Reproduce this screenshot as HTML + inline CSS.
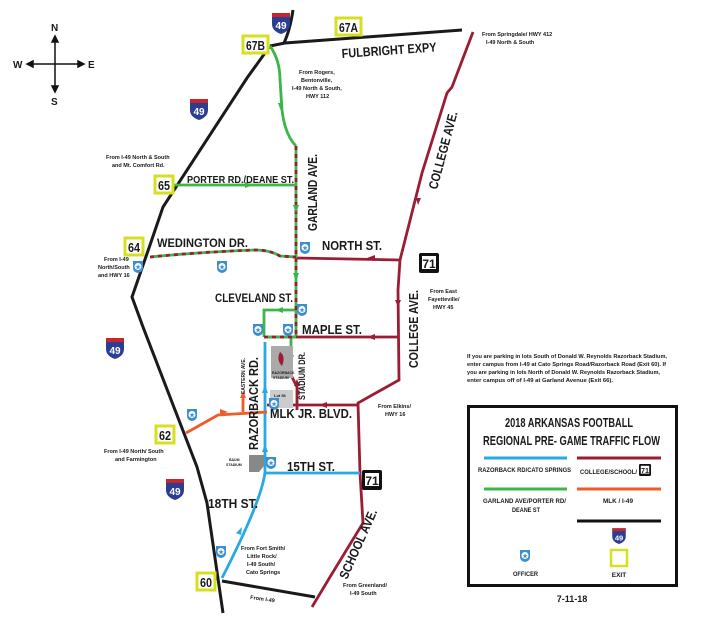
<!DOCTYPE html>
<html><head><meta charset="utf-8"><style>
html,body{margin:0;padding:0;background:#fff;}
svg{display:block;}
text{font-family:"Liberation Sans Narrow","Liberation Sans",sans-serif;font-weight:bold;fill:#1a1a1a;}
.s{font-size:5.5px;font-weight:normal;}
.r{font-size:13px;}
</style></head><body>
<svg width="707" height="630" viewBox="0 0 707 630" xmlns="http://www.w3.org/2000/svg">
<defs>
<g id="off"><path d="M-5,-5 L5,-5 L5,2 Q5,6 0,7 Q-5,6 -5,2Z" fill="#3b8fd0"/><circle cx="0" cy="0.5" r="3.5" fill="#fff"/><text x="0" y="3" font-size="6" text-anchor="middle" style="fill:#3b8fd0">★</text></g>
<g id="i49"><path d="M-9,-9 L9,-9 L9,2 Q9,9 0,12 Q-9,9 -9,2Z" fill="#2c3e8f"/><rect x="-9" y="-9" width="18" height="4" fill="#c8252c"/><text x="0" y="7" font-size="10" text-anchor="middle" style="fill:#fff">49</text></g>
<g id="u71"><rect x="-10" y="-10" width="20" height="20" rx="2" fill="#111"/><path d="M-7,-7 L7,-7 L7,6 L-7,6Z" fill="#fff"/><text x="0" y="5" font-size="12" text-anchor="middle">71</text></g>
</defs>
<g fill="none" stroke="#1a1a1a" stroke-width="3">
<path d="M270,46 L285,43 L462,30"/>
<path d="M284,43 Q290,30 293,10"/>
<path d="M270,46 L247,78 L163,207 L150,245 L132,297 L143,327 L197,467 L207,503 L223,613"/>
<path d="M222,581 L315,597"/>
</g>
<g fill="none" stroke="#9b1d34" stroke-width="2.8">
<path d="M473,32 L452,87 L447,93 L422,173 L400,260 L398,290 L399,380 L358,403 L360,473 L363,523 L330,577 L312,607"/>
<path d="M400,260 L297,258"/>
<path d="M398,337 L268,337"/>
<path d="M358,405 L267,405"/>
<path d="M297,410 L297,387 L290,373"/>
</g>
<g fill="none" stroke="#3cb54a" stroke-width="2.8">
<path d="M270,46 Q280,60 280,80 L282,110 Q285,135 296,146"/>
<path d="M168,185 L296,185"/>
<path d="M295,310 L264,310 L264,337"/>
<path d="M291,337 L291,362"/>
<path d="M296,146 L296,337" />
<path d="M150,257 Q200,252 255,250 Q270,250 280,256 L296,257"/>
<path d="M264,337 L297,337"/>
</g>
<g fill="none" stroke="#9b1d34" stroke-width="2.8" stroke-dasharray="4,4">
<path d="M296,146 L296,337"/>
<path d="M150,257 Q200,252 255,250 Q270,250 280,256 L296,257"/>
<path d="M264,337 L297,337"/>
</g>
<g fill="none" stroke="#27aae1" stroke-width="2.8">
<path d="M265,342 L265,472 Q262,500 222,578"/>
<path d="M265,473 L360,473"/>
</g>
<g fill="none" stroke="#f15a29" stroke-width="2.8">
<path d="M186,433 L218,415 L267,412"/>
<path d="M243,412 L243,395"/>
</g>
<g>
<path d="M278,103 l5,0 l-2.5,7z" fill="#3cb54a"/>
<path d="M293,205 l6,0 l-3,8z" fill="#3cb54a"/>
<path d="M293,273 l6,0 l-3,8z" fill="#3cb54a"/>
<path d="M288,355 l6,0 l-3,8z" fill="#3cb54a"/>
<path d="M245,182 l0,6 l8,-3z" fill="#3cb54a"/>
<path d="M283,307 l0,6 l-8,-3z" fill="#3cb54a"/>
<path d="M375,255 l0,6 l-8,-3z" fill="#9b1d34"/>
<path d="M375,334 l0,6 l-8,-3z" fill="#9b1d34"/>
<path d="M327,402 l0,6 l-8,-3z" fill="#9b1d34"/>
<path d="M416,198 l5,0 l-3,7z" fill="#9b1d34"/>
<path d="M395,300 l6,0 l-3,7z" fill="#9b1d34"/>
<path d="M294,386 l6,0 l-3,-7z" fill="#9b1d34"/>
<path d="M262,393 l6,0 l-3,-8z" fill="#27aae1"/>
<path d="M262,452 l6,0 l-3,-8z" fill="#27aae1"/>
<path d="M236,533 l5,2 l1,-8z" fill="#27aae1"/>
<path d="M220,409 l0,6 l8,-3z" fill="#f15a29"/>
<path d="M240,398 l6,0 l-3,-7z" fill="#f15a29"/>
</g>
<rect x="271" y="346" width="22" height="32" fill="#aaa"/>
<rect x="270" y="390" width="23" height="18" fill="#ccc"/>
<path d="M249,455 L264,455 L264,466 L259,472 L249,472Z" fill="#888"/>
<path d="M280,352 q6,4 2,14 q-6,-6 -2,-14z" fill="#9b1d34"/>
<text x="272" y="374" font-size="3.5" font-weight="normal">RAZORBACK</text>
<text x="273" y="379" font-size="3.5" font-weight="normal">STADIUM</text>
<text x="274" y="397" font-size="4" font-weight="normal">Lot 56</text>
<text x="229" y="461" font-size="3.5" font-weight="normal">BAUM</text>
<text x="226" y="466" font-size="3.5" font-weight="normal">STADIUM</text>
<use href="#off" x="138" y="266"/><use href="#off" x="222" y="266"/>
<use href="#off" x="305" y="247"/><use href="#off" x="302" y="309"/>
<use href="#off" x="258" y="329"/><use href="#off" x="288" y="329"/>
<use href="#off" x="274" y="403"/><use href="#off" x="192" y="414"/>
<use href="#off" x="271" y="462"/><use href="#off" x="221" y="551"/>
<use href="#i49" x="281" y="22"/><use href="#i49" x="199" y="108"/>
<use href="#i49" x="115" y="347"/><use href="#i49" x="175" y="488"/>
<use href="#u71" x="429" y="263"/><use href="#u71" x="372" y="480"/>
<g fill="#fff" stroke="#d6e021" stroke-width="3">
<rect x="243" y="36" width="25" height="17"/><rect x="336" y="18" width="25" height="17"/>
<rect x="155" y="176" width="18" height="17"/><rect x="125" y="238" width="18" height="17"/>
<rect x="156" y="426" width="18" height="17"/><rect x="197" y="573" width="18" height="17"/>
</g>
<text x="246" y="50" font-size="13" textLength="19" lengthAdjust="spacingAndGlyphs">67B</text>
<text x="339" y="32" font-size="13" textLength="19" lengthAdjust="spacingAndGlyphs">67A</text>
<text x="158" y="190" font-size="13" textLength="12" lengthAdjust="spacingAndGlyphs">65</text>
<text x="128" y="252" font-size="13" textLength="12" lengthAdjust="spacingAndGlyphs">64</text>
<text x="159" y="440" font-size="13" textLength="12" lengthAdjust="spacingAndGlyphs">62</text>
<text x="200" y="587" font-size="13" textLength="12" lengthAdjust="spacingAndGlyphs">60</text>
<g lengthAdjust="spacingAndGlyphs">
<text x="342" y="58" class="r" transform="rotate(-4 342 58)" textLength="95" lengthAdjust="spacingAndGlyphs">FULBRIGHT EXPY</text>
<text x="187" y="183" font-size="10.5" textLength="107" lengthAdjust="spacingAndGlyphs">PORTER RD./DEANE ST.</text>
<text x="157" y="247" font-size="12" textLength="91" lengthAdjust="spacingAndGlyphs">WEDINGTON DR.</text>
<text x="322" y="250" class="r" textLength="60" lengthAdjust="spacingAndGlyphs">NORTH ST.</text>
<text x="215" y="302" font-size="12" textLength="78" lengthAdjust="spacingAndGlyphs">CLEVELAND ST.</text>
<text x="302" y="334" class="r" textLength="60" lengthAdjust="spacingAndGlyphs">MAPLE ST.</text>
<text x="270" y="418" class="r" textLength="82" lengthAdjust="spacingAndGlyphs">MLK JR. BLVD.</text>
<text x="287" y="471" class="r" textLength="48" lengthAdjust="spacingAndGlyphs">15TH ST.</text>
<text x="208" y="508" class="r" textLength="50" lengthAdjust="spacingAndGlyphs">18TH ST.</text>
<text x="317" y="231" class="r" transform="rotate(-90 317 231)" textLength="77" lengthAdjust="spacingAndGlyphs">GARLAND AVE.</text>
<text x="437" y="190" class="r" transform="rotate(-75 437 190)" textLength="80" lengthAdjust="spacingAndGlyphs">COLLEGE AVE.</text>
<text x="418" y="368" class="r" transform="rotate(-90 418 368)" textLength="78" lengthAdjust="spacingAndGlyphs">COLLEGE AVE.</text>
<text x="258" y="450" class="r" transform="rotate(-90 258 450)" textLength="93" lengthAdjust="spacingAndGlyphs">RAZORBACK RD.</text>
<text x="305" y="400" font-size="9" transform="rotate(-90 305 400)" textLength="48" lengthAdjust="spacingAndGlyphs">STADIUM DR.</text>
<text x="245" y="394" font-size="5" transform="rotate(-90 245 394)" textLength="36" lengthAdjust="spacingAndGlyphs">EASTERN AVE.</text>
<text x="347" y="580" class="r" transform="rotate(-66 347 580)" textLength="75" lengthAdjust="spacingAndGlyphs">SCHOOL AVE.</text>
</g>
<g class="s">
<text x="299" y="74">From Rogers,</text><text x="301" y="82">Bentonville,</text><text x="292" y="90">I-49 North &amp; South,</text><text x="306" y="98">HWY 112</text>
<text x="482" y="36">From Springdale/ HWY 412</text><text x="486" y="44">I-49 North &amp; South</text>
<text x="106" y="159">From I-49 North &amp; South</text><text x="112" y="167">and Mt. Comfort Rd.</text>
<text x="104" y="261">From I-49</text><text x="98" y="269">North/South</text><text x="98" y="277">and HWY 16</text>
<text x="430" y="293">From East</text><text x="428" y="301">Fayetteville/</text><text x="433" y="309">HWY 45</text>
<text x="378" y="408">From Elkins/</text><text x="385" y="416">HWY 16</text>
<text x="104" y="453">From I-49 North/ South</text><text x="115" y="461">and Farmington</text>
<text x="241" y="550">From Fort Smith/</text><text x="247" y="558">Little Rock/</text><text x="247" y="566">I-49 South/</text><text x="246" y="574">Cato Springs</text>
<text x="343" y="587">From Greenland/</text><text x="350" y="595">I-49 South</text>
<text x="250" y="599" transform="rotate(8 250 599)">From I-49</text>
<text x="467" y="358" textLength="200" lengthAdjust="spacingAndGlyphs">If you are parking in lots South of Donald W. Reynolds Razorback Stadium,</text>
<text x="467" y="366" textLength="199" lengthAdjust="spacingAndGlyphs">enter campus from I-49 at Cato Springs Road/Razorback Road (Exit 60). If</text>
<text x="467" y="374" textLength="193" lengthAdjust="spacingAndGlyphs">you are parking in lots North of Donald W. Reynolds Razorback Stadium,</text>
<text x="467" y="382" textLength="146" lengthAdjust="spacingAndGlyphs">enter campus off of I-49 at Garland Avenue (Exit 66).</text>
</g>
<g stroke="#111" stroke-width="1.5" fill="#111">
<line x1="55" y1="38" x2="55" y2="90"/><line x1="29" y1="64" x2="82" y2="64"/>
<path d="M55,36 l-3,6 l6,0z M55,92 l-3,-6 l6,0z M27,64 l6,-3 l0,6z M84,64 l-6,-3 l0,6z"/>
</g>
<text x="51" y="31" font-size="10">N</text><text x="51" y="105" font-size="10">S</text>
<text x="13" y="68" font-size="10">W</text><text x="88" y="68" font-size="10">E</text>
<rect x="468.5" y="406.5" width="208" height="179" fill="#fff" stroke="#111" stroke-width="3"/>
<text x="505" y="427" font-size="12.5" textLength="128" lengthAdjust="spacingAndGlyphs">2018 ARKANSAS FOOTBALL</text>
<text x="483" y="445" font-size="12.5" textLength="177" lengthAdjust="spacingAndGlyphs">REGIONAL PRE- GAME TRAFFIC FLOW</text>
<line x1="484" y1="458" x2="567" y2="458" stroke="#27aae1" stroke-width="3"/>
<line x1="577" y1="458" x2="661" y2="458" stroke="#9b1d34" stroke-width="3"/>
<line x1="484" y1="489" x2="567" y2="489" stroke="#3cb54a" stroke-width="3"/>
<line x1="577" y1="489" x2="661" y2="489" stroke="#f15a29" stroke-width="3"/>
<line x1="577" y1="521" x2="661" y2="521" stroke="#111" stroke-width="3"/>
<text x="478" y="472" font-size="6.5" textLength="93" lengthAdjust="spacingAndGlyphs">RAZORBACK RD/CATO SPRINGS</text>
<text x="580" y="474" font-size="6.5" textLength="57" lengthAdjust="spacingAndGlyphs">COLLEGE/SCHOOL/</text>
<g transform="translate(645,470) scale(0.6)"><use href="#u71"/></g>
<text x="483" y="503" font-size="6.5" textLength="83" lengthAdjust="spacingAndGlyphs">GARLAND AVE/PORTER RD/</text>
<text x="512" y="512" font-size="6.5" textLength="28" lengthAdjust="spacingAndGlyphs">DEANE ST</text>
<text x="603" y="503" font-size="6.5" textLength="30" lengthAdjust="spacingAndGlyphs">MLK / I-49</text>
<g transform="translate(619,535) scale(0.75)"><use href="#i49"/></g>
<use href="#off" x="525" y="555"/>
<text x="513" y="576" font-size="6.5" textLength="25" lengthAdjust="spacingAndGlyphs">OFFICER</text>
<rect x="611" y="550" width="16" height="16" fill="#fff" stroke="#d6e021" stroke-width="2.5"/>
<text x="619" y="577" font-size="6.5" text-anchor="middle">EXIT</text>
<text x="572" y="602" font-size="9" text-anchor="middle">7-11-18</text>
</svg>
</body></html>
